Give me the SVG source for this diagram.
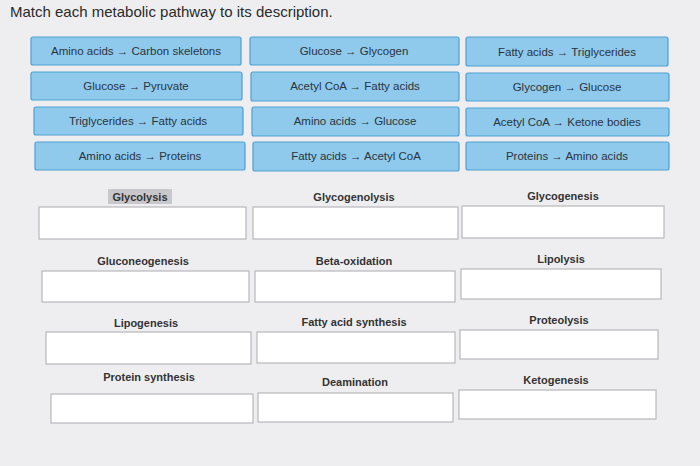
<svg xmlns="http://www.w3.org/2000/svg" width="700" height="466" viewBox="0 0 700 466">
<style>
text{font-family:"Liberation Sans",Arial,sans-serif}
.b rect{fill:#8fcaec;stroke:#4f9fd4;stroke-width:1.2}
.b text{font-size:11.5px;fill:#2a3440;text-anchor:middle}
.l{font-size:11px;font-weight:bold;fill:#333;text-anchor:middle}
.x{fill:#fff;stroke:#b8b8bc;stroke-width:1.2}
</style>
<rect width="700" height="466" fill="#eeeef0"/>
<text x="10" y="17" font-size="15" fill="#2a2a2a">Match each metabolic pathway to its description.</text>
<g id="b1" class="b"><rect x="31" y="37" width="210" height="28" rx="2"/><text x="136" y="55">Amino acids → Carbon skeletons</text></g>
<g id="b2" class="b"><rect x="250" y="37" width="209" height="28" rx="2"/><text x="354" y="55">Glucose → Glycogen</text></g>
<g id="b3" class="b"><rect x="466" y="37" width="202" height="29" rx="2"/><text x="567" y="56">Fatty acids → Triglycerides</text></g>
<g id="b4" class="b"><rect x="31" y="72" width="211" height="28" rx="2"/><text x="136" y="90">Glucose → Pyruvate</text></g>
<g id="b5" class="b"><rect x="251" y="72" width="208" height="29" rx="2"/><text x="355" y="90">Acetyl CoA → Fatty acids</text></g>
<g id="b6" class="b"><rect x="466" y="73" width="203" height="28" rx="2"/><text x="567" y="91">Glycogen → Glucose</text></g>
<g id="b7" class="b"><rect x="34" y="107" width="209" height="28" rx="2"/><text x="138" y="125">Triglycerides → Fatty acids</text></g>
<g id="b8" class="b"><rect x="252" y="107" width="207" height="29" rx="2"/><text x="355" y="125">Amino acids → Glucose</text></g>
<g id="b9" class="b"><rect x="466" y="108" width="203" height="28" rx="2"/><text x="567" y="126">Acetyl CoA → Ketone bodies</text></g>
<g id="b10" class="b"><rect x="35" y="142" width="210" height="28" rx="2"/><text x="140" y="160">Amino acids → Proteins</text></g>
<g id="b11" class="b"><rect x="253" y="142" width="206" height="29" rx="2"/><text x="356" y="160">Fatty acids → Acetyl CoA</text></g>
<g id="b12" class="b"><rect x="466" y="142" width="203" height="28" rx="2"/><text x="567" y="160">Proteins → Amino acids</text></g>

<g id="t1"><rect x="108" y="189" width="64" height="15" fill="#c8c8cc"/><text class="l" x="140" y="201">Glycolysis</text><rect class="x" x="39" y="207" width="207" height="32"/></g>
<g id="t2"><text class="l" x="354" y="201">Glycogenolysis</text><rect class="x" x="253" y="207" width="205" height="32"/></g>
<g id="t3"><text class="l" x="563" y="200">Glycogenesis</text><rect class="x" x="462" y="206" width="202" height="32"/></g>
<g id="t4"><text class="l" x="143" y="265">Gluconeogenesis</text><rect class="x" x="42" y="271" width="207" height="31"/></g>
<g id="t5"><text class="l" x="354" y="265">Beta-oxidation</text><rect class="x" x="255" y="271" width="200" height="31"/></g>
<g id="t6"><text class="l" x="561" y="263">Lipolysis</text><rect class="x" x="461" y="269" width="200" height="30"/></g>
<g id="t7"><text class="l" x="146" y="327">Lipogenesis</text><rect class="x" x="46" y="332" width="205" height="32"/></g>
<g id="t8"><text class="l" x="354" y="326">Fatty acid synthesis</text><rect class="x" x="257" y="332" width="198" height="31"/></g>
<g id="t9"><text class="l" x="559" y="324">Proteolysis</text><rect class="x" x="460" y="330" width="198" height="29"/></g>
<g id="t10"><text class="l" x="149" y="381">Protein synthesis</text><rect class="x" x="51" y="394" width="202" height="29"/></g>
<g id="t11"><text class="l" x="355" y="386">Deamination</text><rect class="x" x="258" y="393" width="195" height="29"/></g>
<g id="t12"><text class="l" x="556" y="384">Ketogenesis</text><rect class="x" x="459" y="390" width="197" height="29"/></g>
<g id="connectors"/>
</svg>
